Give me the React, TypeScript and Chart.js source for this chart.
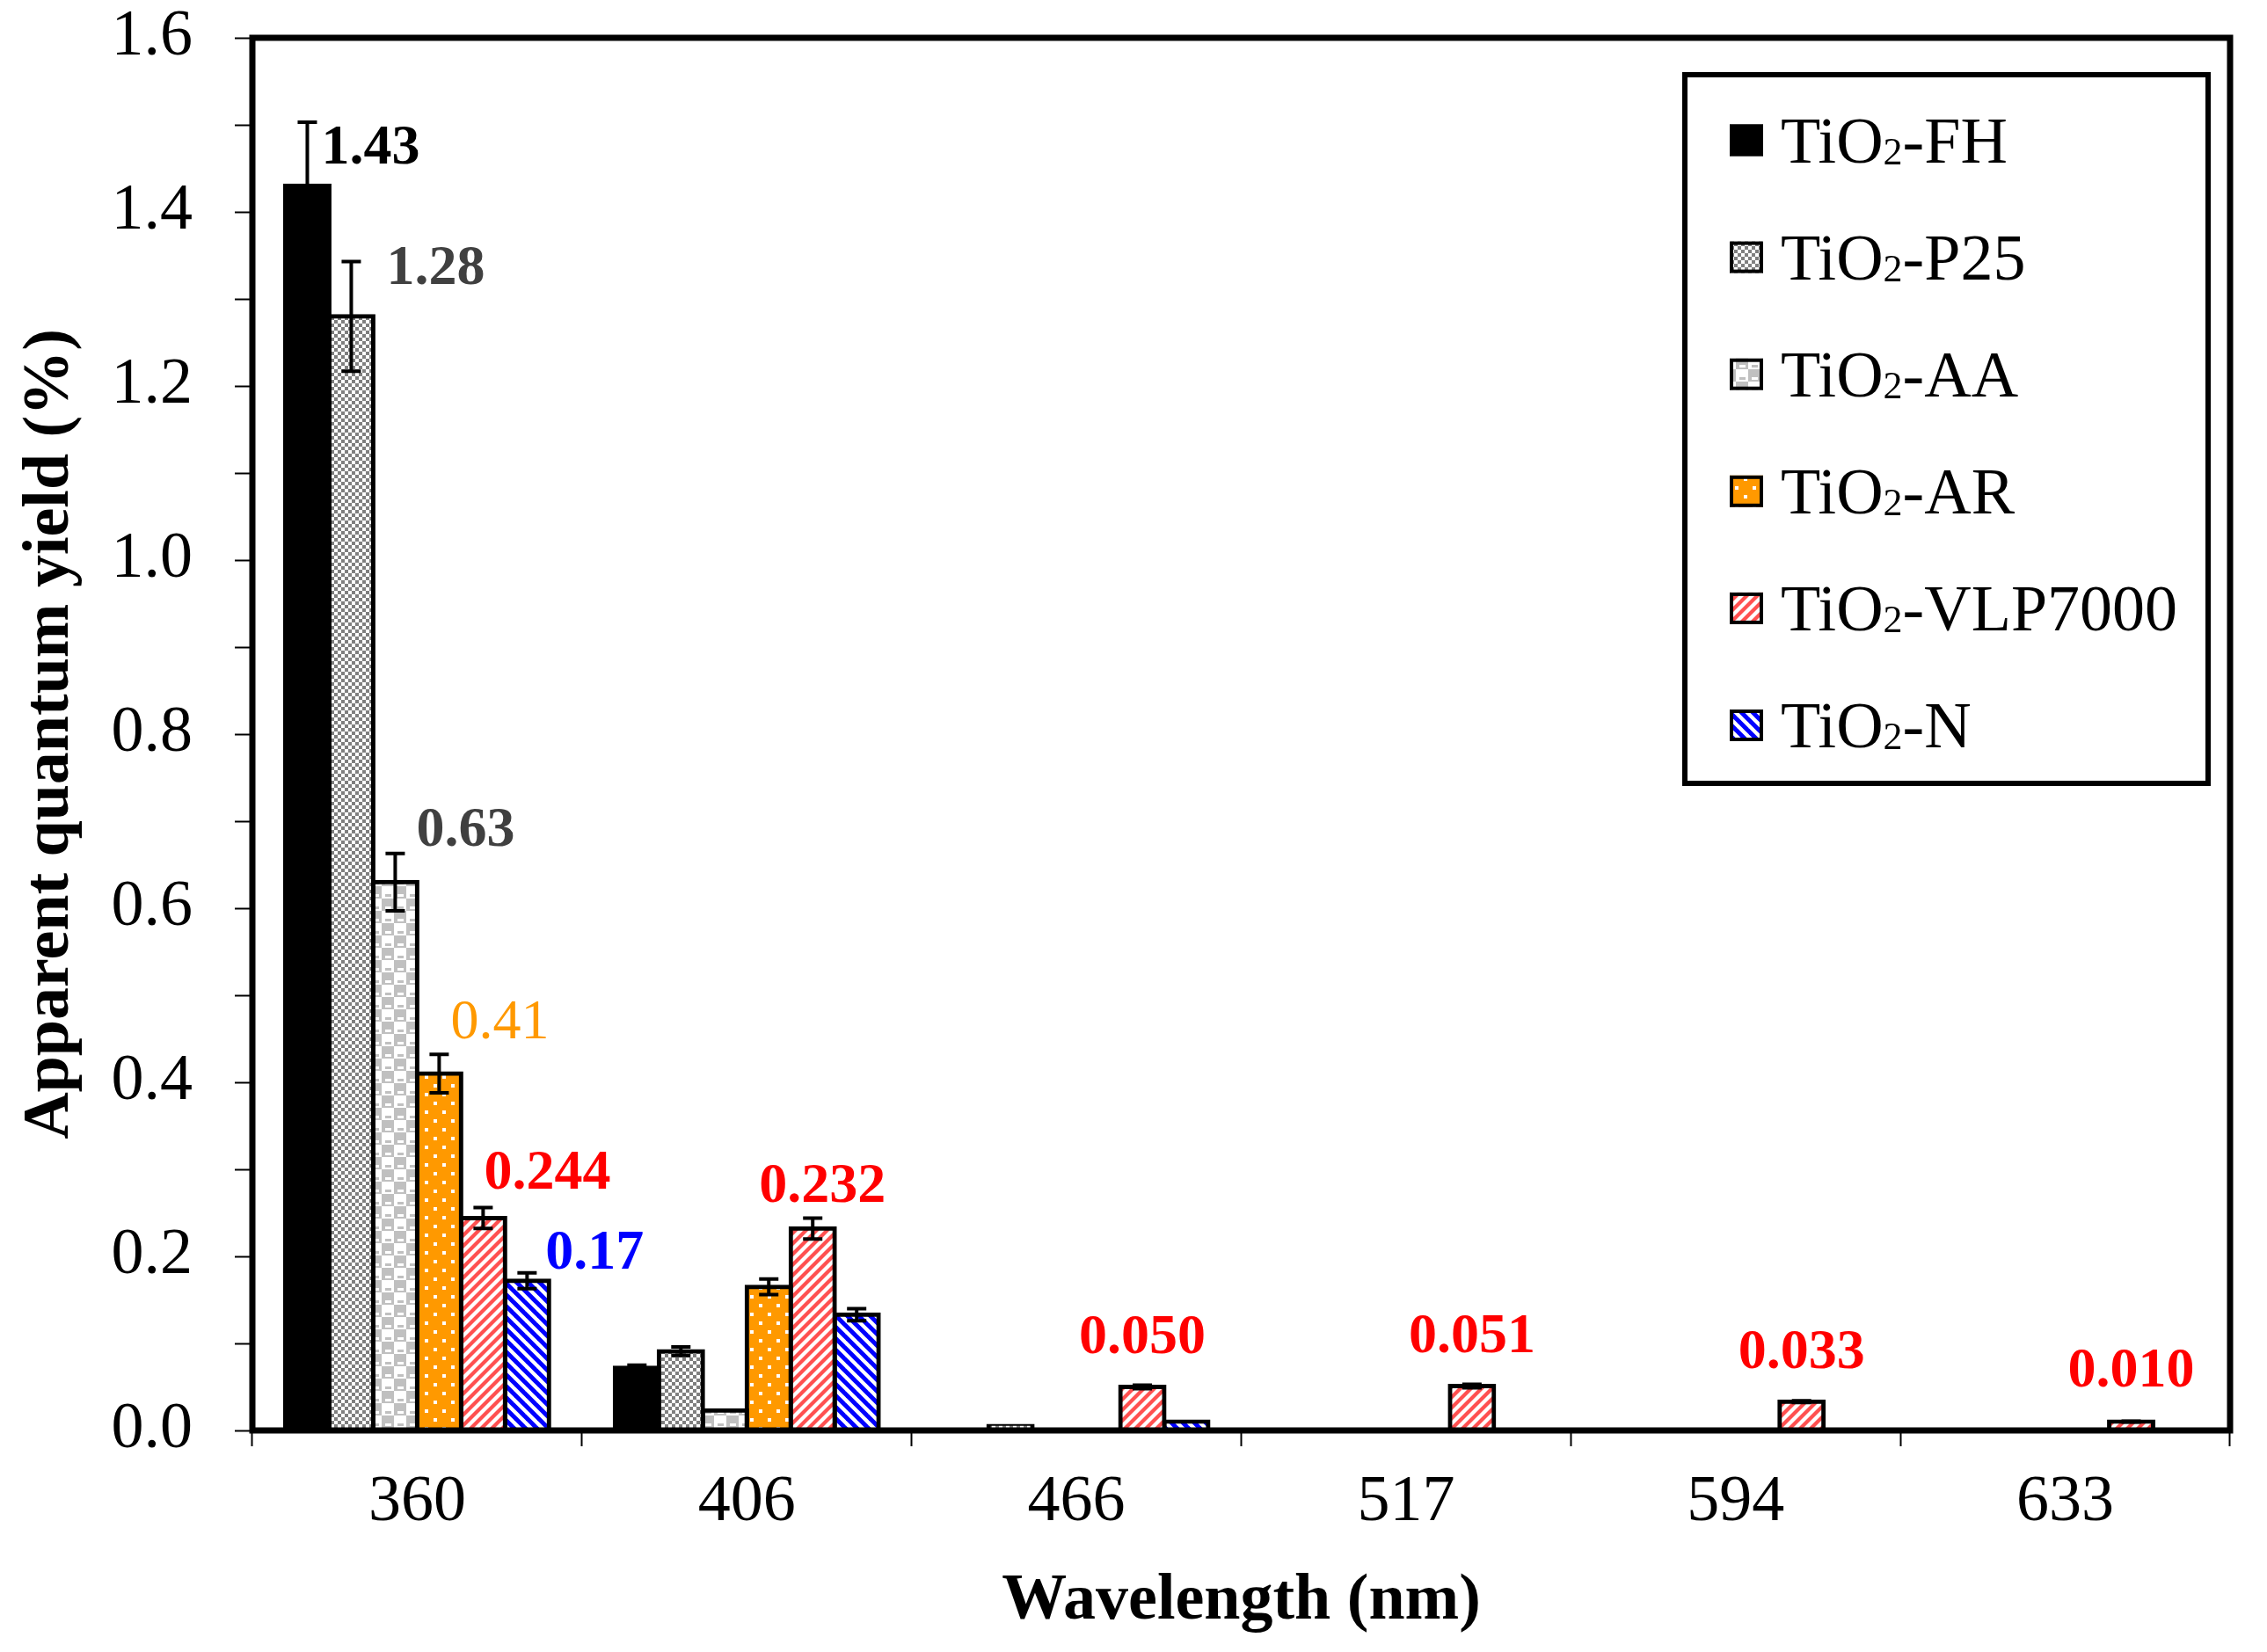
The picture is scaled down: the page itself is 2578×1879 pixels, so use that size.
import React, { useEffect, useRef } from 'react';
import { Chart, registerables } from 'chart.js';

Chart.register(...registerables);

// ---------- DATA ----------
const categories = ['360', '406', '466', '517', '594', '633'];
const seriesLabels = ['TiO₂-FH', 'TiO₂-P25', 'TiO₂-AA', 'TiO₂-AR', 'TiO₂-VLP7000', 'TiO₂-N'];

const fhValues = [1.43, 0.072, null, null, null, null];
const p25Values = [1.28, 0.091, 0.005, null, null, null];
const aaValues = [0.63, 0.023, null, null, null, null];
const arValues = [0.41, 0.165, null, null, null, null];
const vlpValues = [0.244, 0.232, 0.05, 0.051, 0.033, 0.01];
const nValues = [0.172, 0.133, 0.01, null, null, null];

const fhErrors = [0.073, 0.003, 0, 0, 0, 0];
const p25Errors = [0.063, 0.005, 0, 0, 0, 0];
const aaErrors = [0.033, 0, 0, 0, 0, 0];
const arErrors = [0.022, 0.009, 0, 0, 0, 0];
const vlpErrors = [0.012, 0.012, 0.002, 0.002, 0.001, 0.0005];
const nErrors = [0.009, 0.007, 0, 0, 0, 0];

const yMin = 0;
const yMax = 1.6;
const yStep = 0.1;

const valueLabelTexts = ['1.43', '1.28', '0.63', '0.41', '0.244', '0.17', '0.232', '0.050', '0.051', '0.033', '0.010'];
const valueLabelSeries = [0, 1, 2, 3, 4, 5, 4, 4, 4, 4, 4];
const valueLabelCategory = [0, 0, 0, 0, 0, 0, 1, 2, 3, 4, 5];

// ---------- STYLE ----------
const FONT = "'Liberation Serif', 'Times New Roman', serif";
const valueLabelColors = ['#000000', '#404040', '#404040', '#FF9900', '#FF0000', '#0000FF', '#FF0000', '#FF0000', '#FF0000', '#FF0000', '#FF0000'];
const valueLabelWeights = ['bold', 'bold', 'bold', 'normal', 'bold', 'bold', 'bold', 'bold', 'bold', 'bold', 'bold'];
const valueLabelDx = [72, 96, 80, 69, 73, 77, 11, 0, 0, 0, 0];
const valueLabelDy = [-42, -53, -58, -57, -50, -30, -47, -55, -55, -55, -57];

function tile(size: number, draw: (g: CanvasRenderingContext2D, s: number) => void) {
  const c = document.createElement('canvas');
  c.width = size;
  c.height = size;
  const g = c.getContext('2d') as CanvasRenderingContext2D;
  draw(g, size);
  return c;
}

function makePatterns(ctx: CanvasRenderingContext2D) {
  const checkerSmall = tile(8, (g, s) => {
    g.fillStyle = '#ffffff';
    g.fillRect(0, 0, s, s);
    g.fillStyle = '#7f7f7f';
    g.fillRect(0, 0, 4, 4);
    g.fillRect(4, 4, 4, 4);
  });
  const checkerLarge = tile(28, (g, s) => {
    g.fillStyle = '#ffffff';
    g.fillRect(0, 0, s, s);
    g.fillStyle = '#c0c0c0';
    g.fillRect(0, 0, 14, 14);
    g.fillRect(14, 14, 14, 14);
    g.fillStyle = '#ffffff';
    g.fillRect(4, 9, 7, 3);
    g.fillRect(18, 23, 7, 3);
    g.fillStyle = '#c0c0c0';
    g.fillRect(18, 9, 7, 3);
    g.fillRect(4, 23, 7, 3);
  });
  const dots = tile(20, (g, s) => {
    g.fillStyle = '#FF9900';
    g.fillRect(0, 0, s, s);
    g.fillStyle = '#ffffff';
    g.fillRect(3, 3, 4, 4);
    g.fillRect(13, 13, 4, 4);
  });
  const stripesUp = tile(12, (g, s) => {
    g.fillStyle = '#ffffff';
    g.fillRect(0, 0, s, s);
    g.strokeStyle = '#FF5050';
    g.lineWidth = 4.2;
    for (const o of [-s, 0, s]) {
      g.beginPath();
      g.moveTo(o - 2, s + 2);
      g.lineTo(o + s + 2, -2);
      g.stroke();
    }
  });
  const stripesDown = tile(13, (g, s) => {
    g.fillStyle = '#ffffff';
    g.fillRect(0, 0, s, s);
    g.strokeStyle = '#0000FF';
    g.lineWidth = 5;
    for (const o of [-s, 0, s]) {
      g.beginPath();
      g.moveTo(o - 2, -2);
      g.lineTo(o + s + 2, s + 2);
      g.stroke();
    }
  });
  return [
    '#000000',
    ctx.createPattern(checkerSmall, 'repeat'),
    ctx.createPattern(checkerLarge, 'repeat'),
    ctx.createPattern(dots, 'repeat'),
    ctx.createPattern(stripesUp, 'repeat'),
    ctx.createPattern(stripesDown, 'repeat'),
  ];
}

const seriesValues = [fhValues, p25Values, aaValues, arValues, vlpValues, nValues];
const seriesErrors = [fhErrors, p25Errors, aaErrors, arErrors, vlpErrors, nErrors];

const errorBarPlugin = {
  id: 'errorBars',
  afterDatasetsDraw(chart: any) {
    const ctx = chart.ctx;
    const yScale = chart.scales.y;
    ctx.save();
    ctx.strokeStyle = '#000';
    ctx.lineWidth = 4;
    chart.data.datasets.forEach((ds: any, i: number) => {
      const meta = chart.getDatasetMeta(i);
      const errs = seriesErrors[i];
      meta.data.forEach((el: any, j: number) => {
        const v = ds.data[j];
        const e = errs[j];
        if (v == null || !e) return;
        const x = el.x;
        const yt = yScale.getPixelForValue(v + e);
        const yb = yScale.getPixelForValue(Math.max(0, v - e));
        const cap = 11;
        ctx.beginPath();
        ctx.moveTo(x, yt);
        ctx.lineTo(x, yb);
        ctx.moveTo(x - cap, yt);
        ctx.lineTo(x + cap, yt);
        ctx.moveTo(x - cap, yb);
        ctx.lineTo(x + cap, yb);
        ctx.stroke();
      });
    });
    ctx.restore();
  },
};

const valueLabelPlugin = {
  id: 'valueLabels',
  afterDatasetsDraw(chart: any) {
    const ctx = chart.ctx;
    const yScale = chart.scales.y;
    ctx.save();
    ctx.textAlign = 'center';
    ctx.textBaseline = 'middle';
    valueLabelTexts.forEach((t, k) => {
      const si = valueLabelSeries[k];
      const ci = valueLabelCategory[k];
      const el = chart.getDatasetMeta(si).data[ci];
      const v = chart.data.datasets[si].data[ci];
      if (!el || v == null) return;
      const x = el.x + valueLabelDx[k];
      const y = yScale.getPixelForValue(v) + valueLabelDy[k];
      ctx.font = `${valueLabelWeights[k]} 64px ${FONT}`;
      ctx.fillStyle = valueLabelColors[k];
      ctx.fillText(t, x, y);
    });
    ctx.restore();
  },
};

const framePlugin = {
  id: 'frameAndLegend',
  afterDraw(chart: any) {
    const ctx = chart.ctx;
    const a = chart.chartArea;
    ctx.save();
    ctx.strokeStyle = '#000';
    ctx.lineWidth = 7;
    ctx.strokeRect(a.left, a.top, a.right - a.left, a.bottom - a.top);

    // legend inside plot
    const bw = 595;
    const bh = 806;
    const bx = a.right - 25 - bw;
    const by = a.top + 42;
    ctx.fillStyle = '#fff';
    ctx.fillRect(bx, by, bw, bh);
    ctx.lineWidth = 6;
    ctx.strokeRect(bx, by, bw, bh);
    chart.data.datasets.forEach((ds: any, i: number) => {
      const cy = by + 74.5 + i * 133.1;
      const sx = bx + 51;
      ctx.fillStyle = ds.backgroundColor;
      ctx.fillRect(sx, cy - 18, 38, 36);
      ctx.lineWidth = 4;
      ctx.strokeStyle = '#000';
      ctx.strokeRect(sx + 2, cy - 16, 34, 32);
      const parts = String(ds.label).split('₂');
      const base = cy + 25;
      let x = bx + 109;
      ctx.fillStyle = '#000';
      ctx.textBaseline = 'alphabetic';
      ctx.textAlign = 'left';
      ctx.font = `74px ${FONT}`;
      ctx.fillText(parts[0], x, base);
      x += ctx.measureText(parts[0]).width;
      if (parts.length > 1) {
        ctx.font = `44px ${FONT}`;
        ctx.fillText('2', x, base + 2);
        x += ctx.measureText('2').width;
        ctx.font = `74px ${FONT}`;
        ctx.fillText(parts[1], x, base);
      }
    });
    ctx.restore();
  },
};

export default function App() {
  const canvasRef = useRef<HTMLCanvasElement | null>(null);

  useEffect(() => {
    const canvas = canvasRef.current;
    if (!canvas) return;
    const ctx = canvas.getContext('2d') as CanvasRenderingContext2D;
    const patterns = makePatterns(ctx);

    const chart = new Chart(ctx, {
      type: 'bar',
      data: {
        labels: categories,
        datasets: seriesLabels.map((label, i) => ({
          label,
          data: seriesValues[i],
          backgroundColor: patterns[i] as any,
          borderColor: '#000000',
          borderWidth: 5,
          inflateAmount: 2.5,
          categoryPercentage: 0.8,
          barPercentage: 1.0,
        })),
      },
      options: {
        responsive: true,
        maintainAspectRatio: false,
        animation: false,
        devicePixelRatio: 1,
        layout: { padding: { top: 0, right: 42, left: 0, bottom: 0 } },
        plugins: {
          legend: { display: false },
          tooltip: { enabled: false },
        },
        scales: {
          x: {
            type: 'category',
            offset: true,
            border: { display: false },
            grid: {
              display: true,
              offset: true,
              drawOnChartArea: false,
              drawTicks: true,
              tickLength: 18,
              tickWidth: 2,
              tickColor: '#000',
            },
            ticks: {
              color: '#000',
              font: { family: FONT, size: 74 },
              padding: 20,
              maxRotation: 0,
            },
            title: {
              display: true,
              text: 'Wavelength (nm)',
              color: '#000',
              font: { family: FONT, size: 74, weight: 'bold' },
              padding: { top: 0, bottom: 13 },
            },
            afterFit: (scale: any) => {
              scale.height = 252;
              scale.paddingLeft = 0;
              scale.paddingRight = 0;
            },
          },
          y: {
            min: yMin,
            max: yMax,
            border: { display: false },
            grid: {
              display: true,
              drawOnChartArea: false,
              drawTicks: true,
              tickLength: 20,
              tickWidth: 2,
              tickColor: '#000',
            },
            ticks: {
              stepSize: yStep,
              color: '#000',
              font: { family: FONT, size: 74 },
              padding: 48,
              callback: (value: any) => {
                const k = Math.round(Number(value) * 10);
                return k % 2 === 0 ? (k / 10).toFixed(1) : '';
              },
            },
            title: {
              display: true,
              text: 'Apparent quantum yield (%)',
              color: '#000',
              font: { family: FONT, size: 74, weight: 'bold' },
              padding: { top: 13, bottom: 0 },
            },
            afterFit: (scale: any) => {
              scale.width = 287;
              scale.paddingTop = 43;
              scale.paddingBottom = 0;
            },
          },
        },
      },
      plugins: [errorBarPlugin, valueLabelPlugin, framePlugin],
    });

    return () => {
      chart.destroy();
    };
  }, []);

  return (
    <div
      style={{
        position: 'fixed',
        left: 0,
        top: 0,
        width: '2578px',
        height: '1879px',
        background: '#ffffff',
      }}
    >
      <canvas ref={canvasRef} />
    </div>
  );
}
